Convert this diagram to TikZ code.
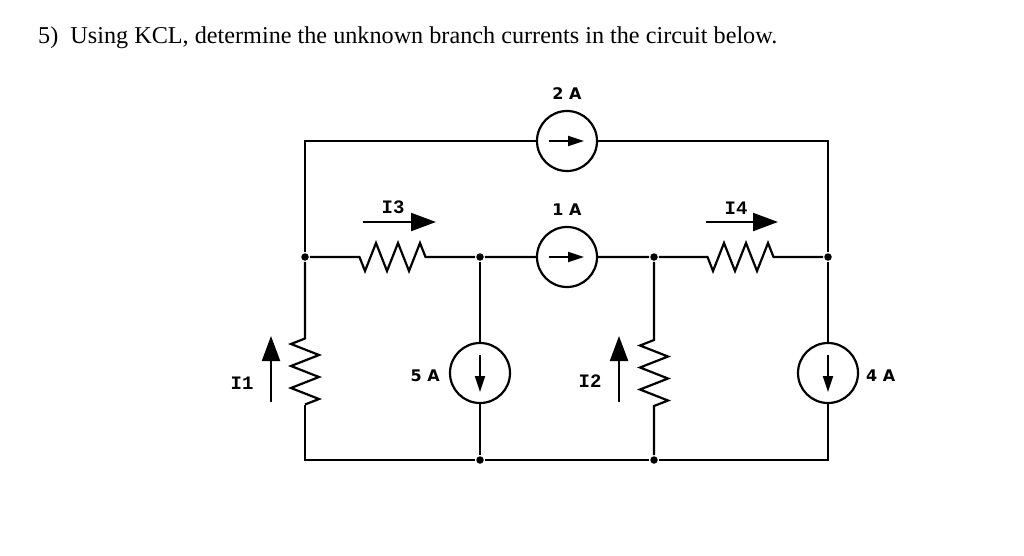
\documentclass[tikz,border=0pt]{standalone}
\usepackage{fontspec}
\setmainfont{Liberation Serif}
\newfontfamily\valfont{DejaVu Sans}
\newfontfamily\curfont{Liberation Mono}
\usetikzlibrary{positioning,calc,arrows.meta}

\begin{document}
\begin{tikzpicture}[x=1pt,y=-1pt]
  \useasboundingbox (0,0) rectangle (1024,555);

  % question
  \node [anchor=base west,inner sep=0pt] (title) at (38,43)
  {\fontsize{24.2}{28}\selectfont 5)\hspace{0.5em}Using KCL, determine the unknown branch currents in the circuit below.};

  \begin{scope}[
    line width=2.2pt,
    dot/.style={
      circle,
      fill,
      inner sep=0pt,
      minimum size=7.5pt,
    },
    source/.style={
      circle,
      draw,
      inner sep=0pt,
      minimum size=60pt,
    },
    value/.style={
      font=\valfont\bfseries\fontsize{16}{19}\selectfont,
      inner sep=1pt,
    },
    current/.style={
      font=\curfont\bfseries\fontsize{19}{22}\selectfont,
      inner sep=1pt,
    },
    ]
    % corners
    \coordinate (TL) at (305,141);
    \coordinate (TR) at (828,141);
    \coordinate (BL) at (305,460);
    \coordinate (BR) at (828,460);

    % junctions
    \node [dot] (jL)  at (305,257) {};
    \node [dot] (jM1) at (480,257) {};
    \node [dot] (jM2) at (654,257) {};
    \node [dot] (jR)  at (828,257) {};
    \node [dot] (jB1) at (480,460) {};
    \node [dot] (jB2) at (654,460) {};

    % sources
    \node [source] (src2A) at (567,141) {};
    \node [source] (src1A) at (567,257) {};
    \node [source] (src5A) at (480,373) {};
    \node [source] (src4A) at (828,373) {};
    \node [value,above=8pt of src2A] (v2A) {2 A};
    \node [value,above=8pt of src1A] (v1A) {1 A};
    \node [value,left=7pt of src5A,yshift=-3pt] (v5A) {5 A};
    \node [value,right=5pt of src4A,yshift=-3pt] (v4A) {4 A};

    % resistor ends
    \coordinate (R1t) at (305,338.5);
    \coordinate (R1b) at (305,404.5);
    \coordinate (R2t) at (654,340);
    \coordinate (R2b) at (654,406);
    \coordinate (R3l) at (359.5,257);
    \coordinate (R3r) at (425.5,257);
    \coordinate (R4l) at (707.5,257);
    \coordinate (R4r) at (773.5,257);

    % branch currents
    \node [current] (lI1) at (242,383) {I1};
    \node [current] (lI2) at (590,381) {I2};
    \node [current] (lI3) at (393,207) {I3};
    \node [current] (lI4) at (736,208) {I4};
    \coordinate (aI1s) at (271,402);
    \coordinate (aI1e) at (271,336);
    \coordinate (aI2s) at (619,402);
    \coordinate (aI2e) at (619,336);
    \coordinate (aI3s) at (363,222);
    \coordinate (aI3e) at (436,222);
    \coordinate (aI4s) at (706,222);
    \coordinate (aI4e) at (778,222);
  \end{scope}
  \begin{scope}[
    line width=2.2pt,
    hres/.style={
      to path={-- ++(5.5,14) -- ++(11,-28) -- ++(11,28) -- ++(11,-28)
        -- ++(11,28) -- ++(11,-28) -- ++(5.5,14)},
    },
    vres/.style={
      to path={-- ++(-14,5.5) -- ++(28,11) -- ++(-28,11) -- ++(28,11)
        -- ++(-28,11) -- ++(28,11) -- ++(-14,5.5)},
    },
    srcarrow/.style={
      -{Triangle[length=16pt,width=10pt]},
      line width=2pt,
    },
    bigarrow/.style={
      -{Triangle[length=25pt,width=18pt]},
      line width=2.2pt,
    },
    ]
    % outer loop
    \draw (jL) -- (TL) -- (src2A);
    \draw (src2A) -- (TR) -- (jR) -- (src4A);
    \draw (src4A) -- (BR) -- (jB2) -- (jB1) -- (BL) -- (R1b);
    \draw (jL) -- (R1t) to [vres] (R1b);

    % middle row
    \draw (jL) -- (R3l) to [hres] (R3r) -- (jM1) -- (src1A);
    \draw (src1A) -- (jM2) -- (R4l) to [hres] (R4r) -- (jR);

    % branches down
    \draw (jM1) -- (src5A) -- (jB1);
    \draw (jM2) -- (R2t) to [vres] (R2b) -- (jB2);

    % source arrows
    \draw [srcarrow] ([xshift=-18pt]src2A.center) -- ([xshift=17pt]src2A.center);
    \draw [srcarrow] ([xshift=-18pt]src1A.center) -- ([xshift=17pt]src1A.center);
    \draw [srcarrow] ([yshift=18pt]src5A.center) -- ([yshift=-19pt]src5A.center);
    \draw [srcarrow] ([yshift=18pt]src4A.center) -- ([yshift=-19pt]src4A.center);

    % current arrows
    \draw [bigarrow] (aI1s) -- (aI1e);
    \draw [bigarrow] (aI2s) -- (aI2e);
    \draw [bigarrow] (aI3s) -- (aI3e);
    \draw [bigarrow] (aI4s) -- (aI4e);
  \end{scope}
\end{tikzpicture}
\end{document}
